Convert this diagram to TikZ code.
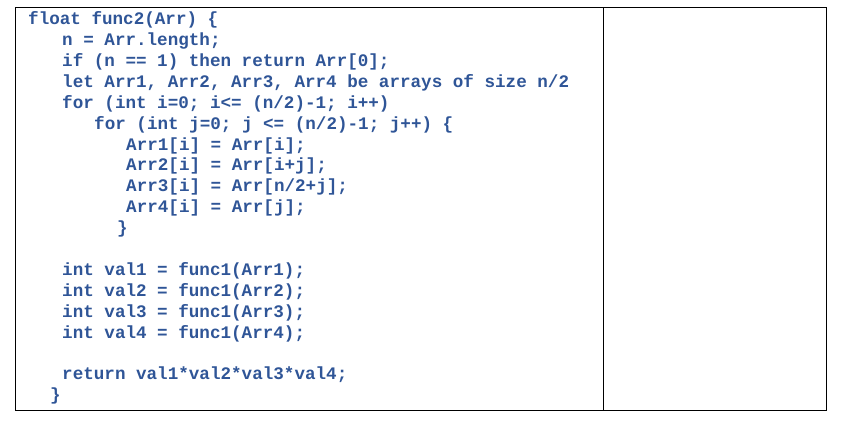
\documentclass[tikz,border=0pt]{standalone}
\usepackage{fontspec}
\setmonofont{Liberation Mono}
\definecolor{codeblue}{HTML}{2F5597}
\begin{document}
\begin{tikzpicture}[x=1pt,y=-1pt,
  code/.style={anchor=west,inner sep=0pt,text=codeblue,font=\ttfamily\bfseries\fontsize{17.6}{20}\selectfont}]
\useasboundingbox (0,0) rectangle (844,424);
\draw[line width=0.8pt] (15,7) rectangle (826,410);
\draw[line width=0.8pt] (603,7) -- (603,410);
\node[code] (l0) at (28,20) {float func2(Arr) \{};
\node[code] (l1) at (62,41) {n = Arr.length;};
\node[code] (l2) at (62,62) {if (n == 1) then return Arr[0];};
\node[code] (l3) at (62,83) {let Arr1, Arr2, Arr3, Arr4 be arrays of size n/2};
\node[code] (l4) at (62,104) {for (int i=0; i<= (n/2)-1; i++)};
\node[code] (l5) at (94,124.5) {for (int j=0; j <= (n/2)-1; j++) \{};
\node[code] (l6) at (126,145.5) {Arr1[i] = Arr[i];};
\node[code] (l7) at (126,166) {Arr2[i] = Arr[i+j];};
\node[code] (l8) at (126,187) {Arr3[i] = Arr[n/2+j];};
\node[code] (l9) at (126,208) {Arr4[i] = Arr[j];};
\node[code] (l10) at (117,229) {\}};
\node[code] (l11) at (62,271) {int val1 = func1(Arr1);};
\node[code] (l12) at (62,292) {int val2 = func1(Arr2);};
\node[code] (l13) at (62,312.5) {int val3 = func1(Arr3);};
\node[code] (l14) at (62,333.5) {int val4 = func1(Arr4);};
\node[code] (l15) at (62,375) {return val1*val2*val3*val4;};
\node[code] (l16) at (50,396) {\}};
\end{tikzpicture}
\end{document}
